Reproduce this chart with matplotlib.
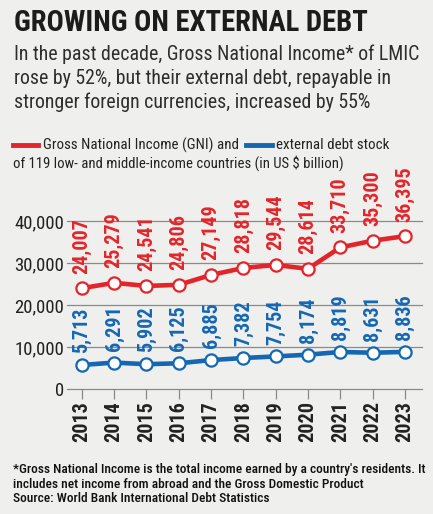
import matplotlib
matplotlib.use("Agg")
import matplotlib.pyplot as plt
from matplotlib.lines import Line2D

years = [2013, 2014, 2015, 2016, 2017, 2018, 2019, 2020, 2021, 2022, 2023]
gni = [24007, 25279, 24541, 24806, 27149, 28818, 29544, 28614, 33710, 35300, 36395]
debt = [5713, 6291, 5902, 6125, 6885, 7382, 7754, 8174, 8819, 8631, 8836]
yticks = [0, 10000, 20000, 30000, 40000]

RED = "#e3252b"
BLUE = "#1467b3"
BG = "#efefed"
COND = ["Roboto Condensed", "DejaVu Sans"]

plt.rcParams["font.family"] = COND

fig = plt.figure(figsize=(4.33, 5.14), dpi=100, facecolor=BG)


def fy(px):
    # pixel row from the top -> figure fraction
    return 1 - px / 514


# title block
fig.text(14 / 433, fy(23), "GROWING ON EXTERNAL DEBT", fontsize=20.6,
         fontweight="heavy", color="#1c1c1c", va="center", ha="left")
sub = ["In the past decade, Gross National Income* of LMIC",
       "rose by 52%, but their external debt, repayable in",
       "stronger foreign currencies, increased by 55%"]
for i, line in enumerate(sub):
    fig.text(14 / 433, fy(60 + 24 * i), line, fontsize=14.3, color="#2e2e2e",
             va="baseline", ha="left")

# legend-ish header
fig.add_artist(Line2D([13 / 433, 38 / 433], [fy(145)] * 2, color=RED, lw=3.5,
                      transform=fig.transFigure))
fig.text(43 / 433, fy(145), "Gross National Income (GNI) and", fontsize=10.8,
         color="#222222", va="center", ha="left")
fig.add_artist(Line2D([246 / 433, 272 / 433], [fy(145)] * 2, color=BLUE, lw=3.5,
                      transform=fig.transFigure))
fig.text(276 / 433, fy(145), "external debt stock", fontsize=10.8,
         color="#222222", va="center", ha="left")
fig.text(13 / 433, fy(163), "of 119 low- and middle-income countries (in US $ billion)",
         fontsize=10.6, color="#222222", va="center", ha="left")

ax = fig.add_axes([67 / 433, fy(389), 355 / 433, 168 / 514])
ax.set_facecolor("none")
ax.set_xlim(2012.54, 2023.53)
ax.set_ylim(0, 40000)

for y in yticks:
    ax.axhline(y, color="#8a8a8a", lw=0.9, zorder=1, clip_on=False)

ax.plot(years, gni, color=RED, lw=3.3, marker="o", ms=8.8, mfc="white",
        mec=RED, mew=1.6, zorder=3, clip_on=False)
ax.plot(years, debt, color=BLUE, lw=3.3, marker="o", ms=8.8, mfc="white",
        mec=BLUE, mew=1.6, zorder=3, clip_on=False)

for x, v in zip(years, gni):
    ax.annotate(f"{v:,}", (x, v), xytext=(0, 10.5), textcoords="offset points",
                rotation=90, ha="center", va="bottom", color=RED, fontsize=14.5,
                fontweight="semibold", clip_on=False)
for x, v in zip(years, debt):
    ax.annotate(f"{v:,}", (x, v), xytext=(0, 8.5), textcoords="offset points",
                rotation=90, ha="center", va="bottom", color=BLUE, fontsize=14.5,
                fontweight="semibold", clip_on=False)

for s in ax.spines.values():
    s.set_visible(False)
ax.set_yticks(yticks)
ax.set_yticklabels([f"{y:,}" for y in yticks], fontsize=13.5, color="#222222")
ax.tick_params(axis="y", length=0, pad=2)
ax.set_xticks(years)
ax.set_xticklabels([str(y) for y in years], rotation=90, fontsize=14.5,
                   fontweight="semibold", color="#222222")
ax.tick_params(axis="x", length=7.5, width=0.9, color="#8a8a8a", pad=1.5)

foot = ["*Gross National Income is the total income earned by a country's residents. It",
        "includes net income from abroad and the Gross Domestic Product",
        "Source: World Bank International Debt Statistics"]
for i, line in enumerate(foot):
    fig.text(13 / 433, fy([470, 484, 499][i]), line, fontsize=9.6, color="#111111",
             va="center", ha="left", fontweight="medium")

fig.savefig("out.png", dpi=100, facecolor=BG)
